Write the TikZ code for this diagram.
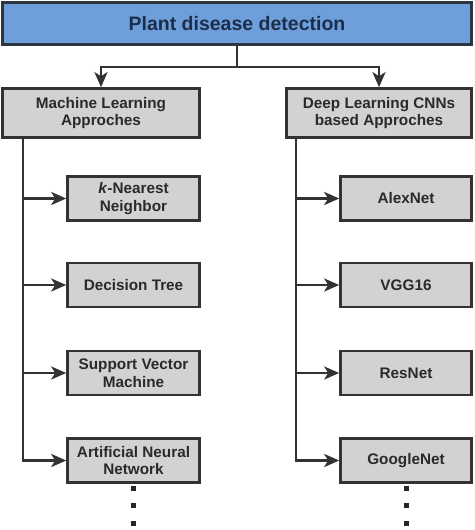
\documentclass[tikz,border=0pt]{standalone}
\usepackage{fontspec}
\setmainfont{Liberation Sans}
\usetikzlibrary{arrows.meta}
\definecolor{topfill}{HTML}{6F9FDA}
\definecolor{topline}{HTML}{2E3440}
\definecolor{toptext}{HTML}{1C2E4A}
\definecolor{boxfill}{HTML}{D2D2D2}
\definecolor{boxline}{HTML}{333333}
\definecolor{txt}{HTML}{2A2A2A}
\begin{document}
\begin{tikzpicture}[x=1pt,y=1pt,
  topbox/.style={draw=topline,line width=2.6pt,fill=topfill,text=toptext,font=\fontsize{19.5}{22}\selectfont\bfseries,minimum width=469pt,minimum height=42pt,inner sep=0pt},
  catbox/.style={draw=boxline,line width=2.6pt,fill=boxfill,text=txt,font=\fontsize{15.3}{17.5}\selectfont\bfseries,align=center,minimum height=49pt,inner sep=0pt},
  leafbox/.style={draw=boxline,line width=2.6pt,fill=boxfill,text=txt,font=\fontsize{15.3}{17.5}\selectfont\bfseries,align=center,minimum width=132pt,minimum height=44pt,inner sep=0pt},
  conn/.style={draw=boxline,line width=2.6pt},
  arr/.style={conn,-{Stealth[length=15pt,width=13pt,inset=4pt]}},
  dotmark/.style={fill=black!85,minimum size=5pt,inner sep=0pt}
]
\useasboundingbox (0,-530) rectangle (474,0);
\node[topbox] (top) at (237,-23.5) {Plant disease detection};
\node[catbox,minimum width=197pt] (ml) at (101,-113) {Machine Learning\\Approches};
\node[catbox,minimum width=185pt] (dl) at (379,-113) {Deep Learning CNNs\\based Approches};
\coordinate (j) at (237,-67);
\draw[conn] (top.south) -- (j);
\draw[arr] (j) -| (ml.north);
\draw[arr] (j) -| (dl.north);
% left column
\node[leafbox] (knn) at (133.5,-198.5) {\textit{k}-Nearest\\Neighbor};
\node[leafbox] (dt)  at (133.5,-285) {Decision Tree};
\node[leafbox] (svm) at (133.5,-373) {Support Vector\\Machine};
\node[leafbox] (ann) at (133.5,-460.5) {Artificial Neural\\Network};
\coordinate (lx) at (23,0);
\draw[arr] (ml.south -| lx) |- (knn.west);
\draw[arr] (ml.south -| lx) |- (dt.west);
\draw[arr] (ml.south -| lx) |- (svm.west);
\draw[arr] (ml.south -| lx) |- (ann.west);
% right column
\node[leafbox,minimum width=131pt] (alex) at (406,-198.5) {AlexNet};
\node[leafbox,minimum width=131pt] (vgg)  at (406,-285) {VGG16};
\node[leafbox,minimum width=131pt] (res)  at (406,-373) {ResNet};
\node[leafbox,minimum width=131pt] (goo)  at (406,-460.5) {GoogleNet};
\coordinate (rx) at (296,0);
\draw[arr] (dl.south -| rx) |- (alex.west);
\draw[arr] (dl.south -| rx) |- (vgg.west);
\draw[arr] (dl.south -| rx) |- (res.west);
\draw[arr] (dl.south -| rx) |- (goo.west);
% dots
\node[dotmark] (ld1) at (133,-488) {};
\node[dotmark] (ld2) at (133,-505.5) {};
\node[dotmark] (ld3) at (133,-523) {};
\node[dotmark] (rd1) at (406,-488) {};
\node[dotmark] (rd2) at (406,-505.5) {};
\node[dotmark] (rd3) at (406,-523) {};
\end{tikzpicture}
\end{document}
